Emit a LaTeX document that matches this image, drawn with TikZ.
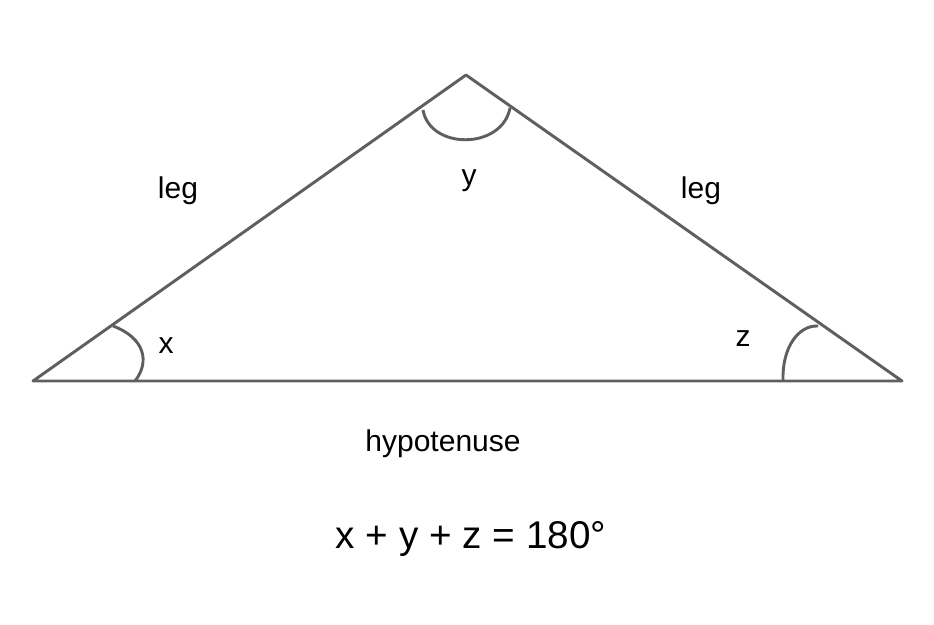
\documentclass[tikz,border=0pt]{standalone}
\usepackage{fontspec}
\setmainfont{Liberation Sans}
\usepackage{xcolor}
\definecolor{edgegray}{RGB}{95,95,95}

\begin{document}
\begin{tikzpicture}[x=0.75pt,y=0.75pt,yscale=-1,xscale=1,
    side/.style={color=edgegray,line width=2.2pt,line join=round},
    anglearc/.style={color=edgegray,line width=2.2pt},
    lbl/.style={inner sep=0.75pt,font=\fontsize{22.5}{27}\selectfont},
    sumlbl/.style={inner sep=0.75pt,font=\fontsize{29}{35}\selectfont}]
    \useasboundingbox (0,0) rectangle (934,624); %set diagram size to 934 x 624
    
    % Vertices
    \coordinate (left) at (33,381);
    \coordinate (apex) at (466,75);
    \coordinate (right) at (902,381);
    
    %Shape: Triangle
    \draw [side] (left) -- (apex) -- (right) -- cycle ;
    
    %Shape: Arc at left vertex
    \draw [anglearc] (113,326) .. controls (145,338) and (150,362) .. (135,381) ;
    %Shape: Arc at apex
    \draw [anglearc] (423,110) .. controls (430,150) and (502,150) .. (510,108) ;
    %Shape: Arc at right vertex
    \draw [anglearc] (783,381) .. controls (782,345) and (800,325) .. (818,326) ;
    
    % Text Node
    \node (legleft) at (178,191) [lbl] {leg};
    % Text Node
    \node (legright) at (701,191) [lbl] {leg};
    % Text Node
    \node (angy) at (469,181) [lbl] {y};
    % Text Node
    \node (angx) at (166,346) [lbl] {x};
    % Text Node
    \node (angz) at (743,339) [lbl] {z};
    % Text Node
    \node (hyp) at (443,444) [lbl] {hypotenuse};
    % Text Node
    \node (anglesum) at (471,539) [sumlbl] {x + y + z = 180°};
    
\end{tikzpicture}
\end{document}
